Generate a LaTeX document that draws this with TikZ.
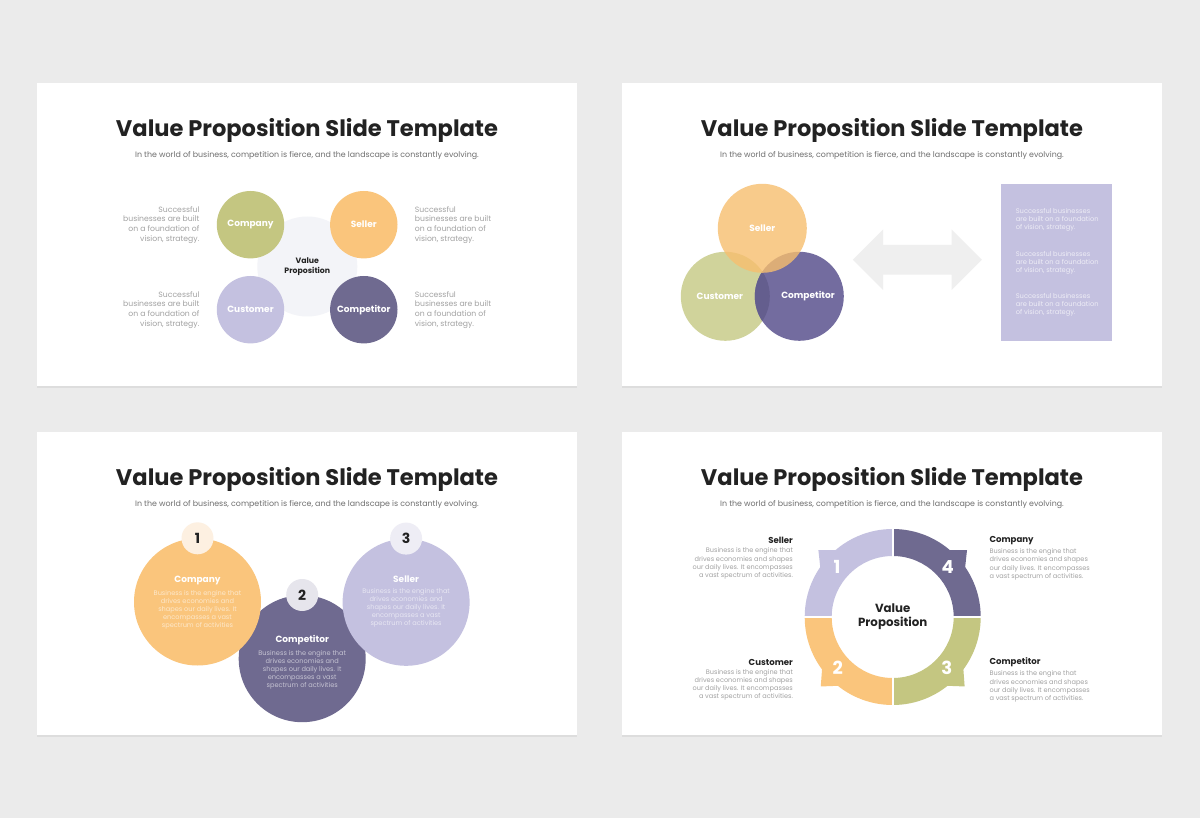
\documentclass[tikz,border=0pt]{standalone}
\usepackage{fontspec}
\setmainfont{Poppins}
\usetikzlibrary{positioning, shapes.arrows, shadows}

\definecolor{backdrop}{HTML}{EBEBEB}
\definecolor{ink}{HTML}{222222}
\definecolor{subgrey}{HTML}{6E6E6E}
\definecolor{notegrey}{HTML}{A2A2A2}
\definecolor{olive}{HTML}{C4C681}
\definecolor{apricot}{HTML}{FAC57C}
\definecolor{lilac}{HTML}{C4C1E0}
\definecolor{plum}{HTML}{6F6A90}
\definecolor{hubgrey}{HTML}{F3F4F8}
\definecolor{arrowgrey}{HTML}{EFEFEF}
\definecolor{venolive}{HTML}{D0D39B}
\definecolor{venapricot}{HTML}{F7BE6E}
\definecolor{venplum}{HTML}{736C9F}
\definecolor{lensplum}{HTML}{645E8E}
\definecolor{peach}{HTML}{FDF0E1}
\definecolor{mist}{HTML}{E6E5EC}
\definecolor{haze}{HTML}{EEEDF5}

\begin{document}
\begin{tikzpicture}[x=1pt, y=-1pt,
  slide/.style={fill=white, minimum width=540pt, minimum height=303pt, inner sep=0pt,
    drop shadow={shadow xshift=0pt, shadow yshift=-2pt, opacity=0.06, fill=black}},
  heading/.style={anchor=base, inner sep=0pt, text=ink, font=\bfseries\fontsize{22.55}{26}\selectfont},
  subline/.style={inner sep=0pt, text=subgrey, font=\fontsize{7.9}{9}\selectfont},
  disc/.style={circle, inner sep=0pt},
  tag/.style={inner sep=0pt, text=white, font=\bfseries\fontsize{9}{11}\selectfont},
  note/.style={inner sep=0pt, text=notegrey, font=\fontsize{7.7}{9.6}\selectfont},
  cardnote/.style={inner sep=0pt, anchor=west, align=left, text=white, text opacity=0.7,
    font=\fontsize{6.7}{8}\selectfont},
  badge/.style={circle, minimum size=32pt, inner sep=0pt, text=ink, font=\bfseries\fontsize{14}{14}\selectfont},
  cbody/.style={inner sep=0pt, align=center, text=white, text opacity=0.6, font=\fontsize{6.6}{8}\selectfont},
  ringnum/.style={inner sep=0pt, text=white, font=\bfseries\fontsize{18}{18}\selectfont},
  sidehead/.style={inner sep=0pt, text=ink, font=\bfseries\fontsize{8.6}{11}\selectfont},
  sidenote/.style={inner sep=0pt, text=notegrey, font=\fontsize{6.55}{8.1}\selectfont}]

  \fill[backdrop] (0,0) rectangle (1200,818);
  \useasboundingbox (0,0) rectangle (1200,818);

  \node[slide] (slideA) at (307,234.5) {};
  \node[heading] (titleA) at (307,136.3) {Value Proposition Slide Template};
  \node[subline, below=9pt of titleA] (subA) {In the world of business, competition is fierce, and the landscape is constantly evolving.};

  \node[disc, fill=hubgrey, minimum size=100pt, align=center, text=ink,
    font=\bfseries\fontsize{7.8}{9.5}\selectfont] (hubA) at (307.3,266.5) {Value\\Proposition};
  \node[disc, tag, fill=olive, minimum size=67.4pt] (companyA) at (250.5,224.7) {Company};
  \node[disc, tag, fill=apricot, minimum size=67.4pt] (sellerA) at (363.8,224.7) {Seller};
  \node[disc, tag, fill=lilac, minimum size=67.4pt] (customerA) at (250.5,309.7) {Customer};
  \node[disc, tag, fill=plum, minimum size=67.4pt] (competitorA) at (363.8,309.7) {Competitor};

  \node[note, align=right, left=17pt of companyA] (companyAn) {Successful\\businesses are built\\on a foundation of\\vision, strategy.};
  \node[note, align=right, left=17pt of customerA] (customerAn) {Successful\\businesses are built\\on a foundation of\\vision, strategy.};
  \node[note, align=left, right=17pt of sellerA] (sellerAn) {Successful\\businesses are built\\on a foundation of\\vision, strategy.};
  \node[note, align=left, right=17pt of competitorA] (competitorAn) {Successful\\businesses are built\\on a foundation of\\vision, strategy.};

  \node[slide] (slideB) at (892,234.5) {};
  \node[heading] (titleB) at (892,136.3) {Value Proposition Slide Template};
  \node[subline, below=9pt of titleB] (subB) {In the world of business, competition is fierce, and the landscape is constantly evolving.};

  \node[disc, fill=venolive, minimum size=89pt] (customerB) at (725.3,296.3) {};
  \node[disc, fill=venplum, minimum size=89pt] (competitorB) at (799.3,296.3) {};
  \begin{scope}
    \clip (customerB.center) circle[radius=44.5pt];
    \fill[lensplum] (competitorB.center) circle[radius=44.5pt];
  \end{scope}
  \node[disc, tag, fill=venapricot, fill opacity=0.8, text opacity=1, minimum size=89pt] (sellerB) at (762.3,228.3) {Seller};
  \node[tag] (customerBt) at ([xshift=-5.5pt]customerB.center) {Customer};
  \node[tag] (competitorBt) at ([xshift=8.7pt]competitorB.center) {Competitor};

  \node[double arrow, fill=arrowgrey, minimum height=129pt, inner xsep=0pt, inner ysep=14.7pt,
    double arrow head extend=15.3pt] (swapB) at (917.3,259.7) {};

  \node[fill=lilac, minimum width=111pt, minimum height=157.6pt, inner sep=0pt] (cardB) at (1056.25,262.5) {};
  \node[cardnote] (cardBa) at (1015.6,220) {Successful businesses\\are built on a foundation\\of vision, strategy.};
  \node[cardnote] (cardBb) at (1015.6,262.7) {Successful businesses\\are built on a foundation\\of vision, strategy.};
  \node[cardnote] (cardBc) at (1015.6,305) {Successful businesses\\are built on a foundation\\of vision, strategy.};

  \node[slide] (slideC) at (307,583.5) {};
  \node[heading] (titleC) at (307,485.3) {Value Proposition Slide Template};
  \node[subline, below=9pt of titleC] (subC) {In the world of business, competition is fierce, and the landscape is constantly evolving.};

  \node[disc, fill=plum, minimum size=127pt] (competitorC) at (302.2,658.7) {};
  \node[disc, fill=apricot, minimum size=127pt] (companyC) at (197.5,602) {};
  \node[disc, fill=lilac, minimum size=127pt] (sellerC) at (406.1,602.3) {};

  \node[badge, fill=peach] (oneC) at (companyC.north) {1};
  \node[badge, fill=mist] (twoC) at (competitorC.north) {2};
  \node[badge, fill=haze] (threeC) at (sellerC.north) {3};

  \node[tag] (companyCt) at ([yshift=21pt]companyC.center) {Company};
  \node[cbody, below=5pt of companyCt] (companyCb) {Business is the engine that\\drives economies and\\shapes our daily lives. It\\encompasses a vast\\spectrum of activities};
  \node[tag] (competitorCt) at ([yshift=18.4pt]competitorC.center) {Competitor};
  \node[cbody, below=5pt of competitorCt] (competitorCb) {Business is the engine that\\drives economies and\\shapes our daily lives. It\\encompasses a vast\\spectrum of activities};
  \node[tag] (sellerCt) at ([yshift=22.6pt]sellerC.center) {Seller};
  \node[cbody, below=5pt of sellerCt] (sellerCb) {Business is the engine that\\drives economies and\\shapes our daily lives. It\\encompasses a vast\\spectrum of activities};

  \node[slide] (slideD) at (892,583.5) {};
  \node[heading] (titleD) at (892,485.3) {Value Proposition Slide Template};
  \node[subline, below=9pt of titleD] (subD) {In the world of business, competition is fierce, and the landscape is constantly evolving.};

  \begin{scope}[shift={(892.7,617)}]
    \fill[lilac] (90:61pt) -- (90:88pt) arc[start angle=90, end angle=180, radius=88pt]
      -- (180:61pt) arc[start angle=180, end angle=90, radius=61pt] -- cycle;
    \fill[lilac] (129:86pt) -- (138:100pt) -- (147:86pt) -- cycle;
    \fill[plum] (0:61pt) -- (0:88pt) arc[start angle=0, end angle=90, radius=88pt]
      -- (90:61pt) arc[start angle=90, end angle=0, radius=61pt] -- cycle;
    \fill[plum] (33:86pt) -- (42:100pt) -- (51:86pt) -- cycle;
    \fill[apricot] (180:61pt) -- (180:88pt) arc[start angle=180, end angle=270, radius=88pt]
      -- (270:61pt) arc[start angle=270, end angle=180, radius=61pt] -- cycle;
    \fill[apricot] (215:86pt) -- (224:100pt) -- (233:86pt) -- cycle;
    \fill[olive] (270:61pt) -- (270:88pt) arc[start angle=270, end angle=360, radius=88pt]
      -- (360:61pt) arc[start angle=360, end angle=270, radius=61pt] -- cycle;
    \fill[olive] (307:86pt) -- (316:100pt) -- (325:86pt) -- cycle;
    \draw[white, line width=2pt] (90:58pt) -- (90:92pt) (270:58pt) -- (270:92pt)
      (0:58pt) -- (0:92pt) (180:58pt) -- (180:92pt);

    \node[ringnum] (numOne) at (138:75pt) {1};
    \node[ringnum] (numTwo) at (223:75pt) {2};
    \node[ringnum] (numThree) at (317:74pt) {3};
    \node[ringnum] (numFour) at (42:74pt) {4};
    \node[inner sep=0pt, align=center, text=ink, font=\bfseries\fontsize{11.8}{13.6}\selectfont] (hubD) at (0pt,0pt) {Value\\Proposition};
  \end{scope}

  \node[sidehead, anchor=east] (sellerDh) at (793.1,540.3) {Seller};
  \node[sidenote, align=right, below=4pt of sellerDh.south east, anchor=north east] (sellerDn) {Business is the engine that\\drives economies and shapes\\our daily lives. It encompasses\\a vast spectrum of activities.};
  \node[sidehead, anchor=east] (customerDh) at (793.1,662) {Customer};
  \node[sidenote, align=right, below=4pt of customerDh.south east, anchor=north east] (customerDn) {Business is the engine that\\drives economies and shapes\\our daily lives. It encompasses\\a vast spectrum of activities.};
  \node[sidehead, anchor=west] (companyDh) at (989.4,540.3) {Company};
  \node[sidenote, align=left, below=4pt of companyDh.south west, anchor=north west] (companyDn) {Business is the engine that\\drives economies and shapes\\our daily lives. It encompasses\\a vast spectrum of activities.};
  \node[sidehead, anchor=west] (competitorDh) at (989.4,662) {Competitor};
  \node[sidenote, align=left, below=4pt of competitorDh.south west, anchor=north west] (competitorDn) {Business is the engine that\\drives economies and shapes\\our daily lives. It encompasses\\a vast spectrum of activities.};
\end{tikzpicture}
\end{document}
